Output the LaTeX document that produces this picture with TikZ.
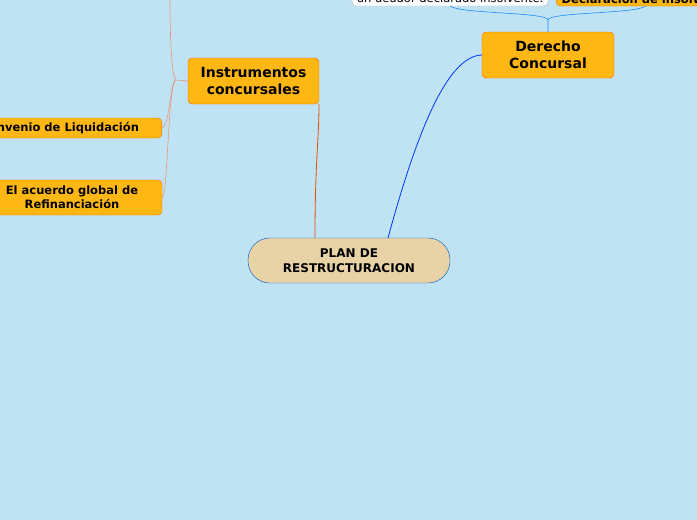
\documentclass[tikz,border=0pt]{standalone}
\usepackage{fontspec}
\setmainfont{DejaVu Sans}
\begin{document}
\begin{tikzpicture}[x=1pt,y=-1pt,
  topic/.style={draw=orange!80!red, fill=ob, rounded corners=4pt, font=\bfseries\fontsize{14}{17}\selectfont, align=center, inner sep=0pt},
  sub/.style={draw=orange!80!red, fill=ob, rounded corners=4pt, font=\bfseries\fontsize{11.5}{14}\selectfont, align=center, inner sep=0pt},
  lnk/.style={draw=salmon, line width=0.6pt}]
\definecolor{bg}{HTML}{C0E3F3}
\definecolor{ob}{HTML}{FFB713}
\definecolor{salmon}{HTML}{E9957A}
\definecolor{cen}{HTML}{E8D3A6}
\clip (0,0) rectangle (697,520);
\fill[bg] (0,0) rectangle (697,520);
\node[draw=blue!60!cyan!80!black, fill=cen, rounded corners=22pt, minimum width=202pt, minimum height=45pt, font=\bfseries\fontsize{12}{15}\selectfont, align=center, inner sep=0pt] (c) at (349,260.5) {PLAN DE\\RESTRUCTURACION};
\node[topic, minimum width=132pt, minimum height=46pt] (d) at (548,55) {Derecho\\Concursal};
\node[topic, minimum width=131pt, minimum height=46pt] (i) at (253.5,81) {Instrumentos\\ concursales};
\node[sub, minimum width=200pt, minimum height=20pt, anchor=east] (cl) at (162,128) {Convenio de Liquidación\hspace{4pt}};
\node[sub, minimum width=180pt, minimum height=35pt] (ag) at (72,197.5) {El acuerdo global de\\Refinanciación};
\node[draw=gray!60, fill=white, rounded corners=4pt, minimum width=196pt, minimum height=15pt, font=\fontsize{11.5}{14}\selectfont, inner sep=0pt] (w) at (450,-1.5) {un deudor declarado insolvente.};
\node[sub, minimum width=180pt, minimum height=15pt, anchor=west] (o) at (556,-1.5) {\hspace{4pt}Declaración de insolvencia\hspace{0pt}};
\draw[orange!70!red!90!black, line width=0.8pt] (315,238) .. controls (315,160) and (319,140) .. (319,104);
\draw[blue!80!cyan, line width=0.8pt] (388,238) .. controls (420,120) and (450,56) .. (d.west);
\draw[blue!50!cyan!90, line width=0.6pt] (d.north) -- (548,20) .. controls (548,12) and (460,14) .. (450,6);
\draw[blue!50!cyan!90, line width=0.6pt] (548,20) .. controls (548,12) and (636,14) .. (646,6);
\coordinate (j) at (176,80);
\coordinate (up) at (170,0);
\draw[lnk] (i.west) -- (j);
\draw[lnk] (j) .. controls (172,80) and (170,40) .. (up);
\draw[lnk] (j) .. controls (170,80) and (170,126) .. (cl.east);
\draw[lnk] (j) .. controls (168,80) and (168,195) .. (ag.east);
\end{tikzpicture}
\end{document}
